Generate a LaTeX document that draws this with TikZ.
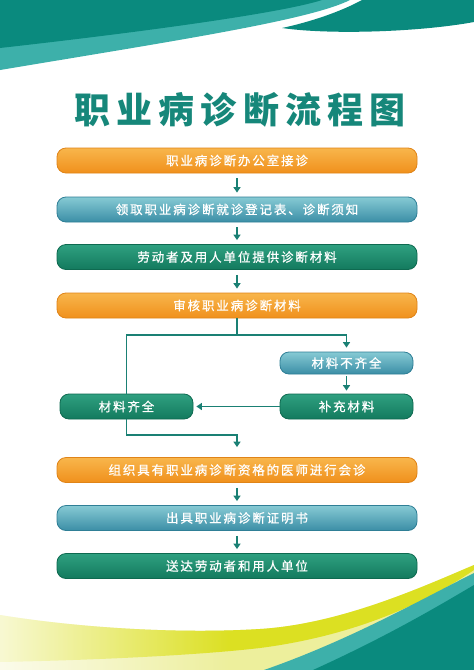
\documentclass[tikz,border=0pt]{standalone}
\usepackage{fontspec}
\newfontfamily\cjk[LetterSpace=15,FakeBold=0.8]{Noto Sans CJK SC}
\newfontfamily\cjktitle[LetterSpace=17]{Noto Sans CJK SC}
\usetikzlibrary{arrows.meta,fadings}
\definecolor{tealD}{HTML}{0A8A7E}
\definecolor{tealL}{HTML}{3DB0AA}
\definecolor{ttl}{HTML}{16877A}
\definecolor{yel}{HTML}{DCE022}
\definecolor{yelP}{HTML}{EDEF9C}
\definecolor{arr}{HTML}{1A8074}
\definecolor{orT}{HTML}{F8B64C}
\definecolor{orB}{HTML}{F0901C}
\definecolor{orE}{HTML}{E08418}
\definecolor{blT}{HTML}{86CAD4}
\definecolor{blB}{HTML}{3B8EA6}
\definecolor{blE}{HTML}{2F7F96}
\definecolor{grT}{HTML}{2FA080}
\definecolor{grB}{HTML}{137A5E}
\definecolor{grE}{HTML}{0E6A50}
\tikzfading[name=fadeR, left color=transparent!0, right color=transparent!100]
\tikzset{
  box/.style={rounded corners=9pt, minimum height=25pt, text=white,
    font=\cjk\fontsize{12.5}{14}\selectfont, inner sep=0pt},
  wide/.style={box, minimum width=360pt},
  small/.style={box, minimum width=133pt},
  orbox/.style={top color=orT, bottom color=orB, draw=orE, line width=0.8pt},
  blbox/.style={top color=blT, bottom color=blB, draw=blE, line width=0.8pt},
  grbox/.style={top color=grT, bottom color=grB, draw=grE, line width=0.8pt},
  link/.style={draw=arr, line width=1.4pt},
  arrow/.style={link, -{Triangle[length=5.5pt,width=7pt]}, arr},
}
\begin{document}
\begin{tikzpicture}[x=1pt,y=-1pt]
\useasboundingbox (0,0) rectangle (474,670);
\fill[white] (0,0) rectangle (474,670);
% top decoration
\fill[tealL] (0,0) -- (350,0) .. controls (310,20) and (180,40) .. (0,70) -- cycle;
\fill[tealD] (0,0) -- (322,0) .. controls (285,12) and (160,30) .. (0,48) -- cycle;
\fill[tealD] (282,28) .. controls (310,22) and (340,12) .. (362,0) -- (474,0) -- (474,22)
  .. controls (420,32) and (330,35) .. (282,28) -- cycle;
% bottom decoration
\fill[yelP] (0,615) .. controls (80,628) and (180,634) .. (260,629)
  .. controls (340,624) and (420,588) .. (474,565) -- (474,670) -- (0,670) -- cycle;
\fill[yel] (0,615) .. controls (80,628) and (180,634) .. (260,629)
  .. controls (340,624) and (420,588) .. (474,565) -- (474,570)
  .. controls (430,600) and (360,635) .. (260,648)
  .. controls (200,655) and (100,660) .. (0,662) -- cycle;
\fill[tealL] (264,670) .. controls (350,640) and (420,600) .. (474,573) -- (474,670) -- cycle;
\fill[tealD] (313,670) .. controls (390,635) and (440,605) .. (474,585) -- (474,670) -- cycle;
\fill[white, path fading=fadeR, fill opacity=0.8] (0,600) rectangle (230,670);
% title
\node[text=ttl, font=\cjktitle\bfseries\fontsize{36}{40}\selectfont] (title) at (240,110) {职业病诊断流程图};
% boxes
\node[wide,orbox] (b1) at (237,160.5) {职业病诊断办公室接诊};
\node[wide,blbox] (b2) at (237,209.5) {领取职业病诊断就诊登记表、诊断须知};
\node[wide,grbox] (b3) at (237,257) {劳动者及用人单位提供诊断材料};
\node[wide,orbox] (b4) at (237,305.5) {审核职业病诊断材料};
\node[small,blbox,minimum height=22pt] (n1) at (346.5,363) {材料不齐全};
\node[small,grbox] (n2) at (346.5,406.5) {补充材料};
\node[small,grbox] (n3) at (126.5,406.5) {材料齐全};
\node[wide,orbox] (b5) at (237,470) {组织具有职业病诊断资格的医师进行会诊};
\node[wide,blbox] (b6) at (237,518) {出具职业病诊断证明书};
\node[wide,grbox] (b7) at (237,566) {送达劳动者和用人单位};
% connectors
\draw[arrow, shorten <=5pt, shorten >=4pt] (b1) -- (b2);
\draw[arrow, shorten <=5pt, shorten >=4pt] (b2) -- (b3);
\draw[arrow, shorten <=5pt, shorten >=4pt] (b3) -- (b4);
\coordinate (j1) at (237,335);
\coordinate (j2) at (237,435);
\draw[arrow, shorten >=4pt] (b4) -- (j1) -| (n1);
\draw[link] (j1) -- (n3.north |- j1) -- (n3);
\draw[arrow, shorten <=2pt, shorten >=3pt] (n1) -- (n2);
\draw[arrow, shorten >=3pt] (n2) -- (n3);
\draw[arrow, shorten >=10pt] (n3) |- (j2) -- (b5);
\draw[arrow, shorten <=5pt, shorten >=4pt] (b5) -- (b6);
\draw[arrow, shorten <=5pt, shorten >=4pt] (b6) -- (b7);
\end{tikzpicture}
\end{document}
